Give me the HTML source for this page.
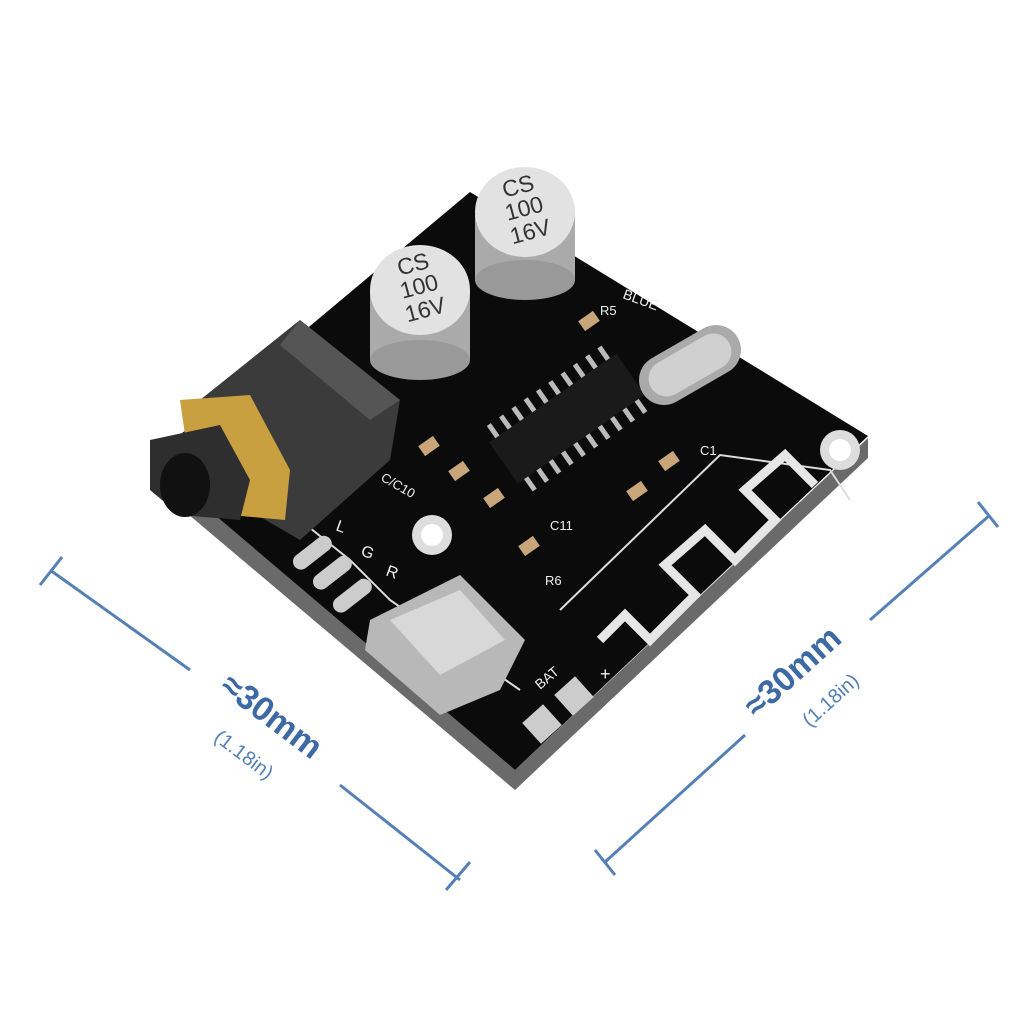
<!DOCTYPE html>
<html><head><meta charset="utf-8"><style>html,body{margin:0;padding:0;background:#fff}svg{display:block}</style></head>
<body>
<svg width="1024" height="1024" viewBox="0 0 1024 1024" xmlns="http://www.w3.org/2000/svg" font-family="Liberation Sans, sans-serif">
<rect width="1024" height="1024" fill="#fff"/>
<polygon points="150,460 515,770 868,438 868,458 515,790 150,482" fill="#6a6a6a"/>
<polygon points="150,460 470,192 868,436 515,770" fill="#0b0b0b"/>
<polyline points="560,610 720,455 830,470 850,500" fill="none" stroke="#ddd" stroke-width="2"/>
<polyline points="300,520 350,560 390,600 520,690" fill="none" stroke="#ddd" stroke-width="2"/>
<g fill="none" stroke="#e6e6e6" stroke-width="9">
<polyline points="600,640 625,615 650,640 695,595 665,565 705,530 735,560 775,520 745,490 785,455 815,485"/>
</g>
<circle cx="840" cy="450" r="20" fill="#ddd"/><circle cx="840" cy="450" r="11" fill="#fff"/>
<circle cx="432" cy="535" r="20" fill="#ddd"/><circle cx="432" cy="535" r="11" fill="#fff"/>
<g fill="#ccc">
<rect x="290" y="545" width="45" height="16" rx="8" transform="rotate(-38 312 553)"/>
<rect x="310" y="565" width="45" height="16" rx="8" transform="rotate(-38 332 573)"/>
<rect x="330" y="588" width="45" height="16" rx="8" transform="rotate(-38 352 596)"/>
<rect x="528" y="710" width="28" height="28" transform="rotate(-42 542 724)"/>
<rect x="560" y="682" width="28" height="28" transform="rotate(-42 574 696)"/>
</g>
<g transform="rotate(-35 565 420)">
<g stroke="#bbb" stroke-width="5">
<line x1="500" y1="380" x2="500" y2="460"/><line x1="515" y1="380" x2="515" y2="460"/><line x1="530" y1="380" x2="530" y2="460"/><line x1="545" y1="380" x2="545" y2="460"/><line x1="560" y1="380" x2="560" y2="460"/><line x1="575" y1="380" x2="575" y2="460"/><line x1="590" y1="380" x2="590" y2="460"/><line x1="605" y1="380" x2="605" y2="460"/><line x1="620" y1="380" x2="620" y2="460"/><line x1="635" y1="380" x2="635" y2="460"/>
</g>
<rect x="490" y="395" width="155" height="50" fill="#1a1a1a"/>
</g>
<g transform="rotate(-30 690 365)">
<rect x="635" y="340" width="110" height="50" rx="25" fill="#aaa"/>
<rect x="645" y="347" width="90" height="36" rx="18" fill="#d0d0d0"/>
</g>
<g fill="#c9a57a">
<rect x="420" y="440" width="18" height="12" transform="rotate(-35 429 446)"/>
<rect x="450" y="465" width="18" height="12" transform="rotate(-35 459 471)"/>
<rect x="485" y="492" width="18" height="12" transform="rotate(-35 494 498)"/>
<rect x="520" y="540" width="18" height="12" transform="rotate(-35 529 546)"/>
<rect x="660" y="455" width="18" height="12" transform="rotate(-35 669 461)"/>
<rect x="628" y="485" width="18" height="12" transform="rotate(-35 637 491)"/>
<rect x="580" y="315" width="18" height="12" transform="rotate(-35 589 321)"/>
</g>
<g>
<rect x="475" y="215" width="100" height="65" fill="#aaa"/>
<ellipse cx="525" cy="280" rx="50" ry="20" fill="#999"/>
<ellipse cx="525" cy="212" rx="50" ry="45" fill="#e2e2e2"/>
<g font-size="23" text-anchor="middle" fill="#333" transform="rotate(-15 525 212)">
<text x="525" y="193">CS</text><text x="525" y="216">100</text><text x="525" y="240">16V</text></g>
</g>
<g>
<rect x="370" y="290" width="100" height="70" fill="#aaa"/>
<ellipse cx="420" cy="360" rx="50" ry="20" fill="#999"/>
<ellipse cx="420" cy="290" rx="50" ry="45" fill="#e2e2e2"/>
<g font-size="23" text-anchor="middle" fill="#333" transform="rotate(-15 420 290)">
<text x="420" y="271">CS</text><text x="420" y="294">100</text><text x="420" y="318">16V</text></g>
</g>
<polygon points="200,400 300,320 400,400 390,460 300,540 180,470" fill="#3b3b3b"/>
<polygon points="300,320 400,400 370,420 280,345" fill="#555"/>
<polygon points="180,400 250,395 290,470 285,520 230,515 190,470" fill="#c8a040"/>
<polygon points="150,440 220,425 250,480 240,520 180,515 150,490" fill="#2e2e2e"/>
<ellipse cx="185" cy="485" rx="25" ry="32" fill="#111"/>
<polygon points="370,620 460,575 525,640 500,690 440,715 365,650" fill="#b8b8b8"/>
<polygon points="390,620 460,590 505,640 440,675" fill="#d8d8d8"/>
<g fill="#eee" font-size="16">
<text x="335" y="530" transform="rotate(20 335 530)">L</text>
<text x="360" y="555" transform="rotate(20 360 555)">G</text>
<text x="385" y="575" transform="rotate(20 385 575)">R</text>
<text x="622" y="298" font-size="14" transform="rotate(20 622 298)">BLUE</text>
<text x="540" y="690" font-size="14" transform="rotate(-40 540 690)">BAT</text>
<text x="600" y="680" font-size="18">+</text>
<text x="550" y="530" font-size="13">C11</text>
<text x="545" y="585" font-size="13">R6</text>
<text x="380" y="480" font-size="13" transform="rotate(30 380 480)">C/C10</text>
<text x="600" y="315" font-size="13">R5</text>
<text x="700" y="455" font-size="13">C1</text>
</g>
<g stroke="#5580b5" stroke-width="3" fill="none">
<line x1="50" y1="570" x2="190" y2="670"/>
<line x1="340" y1="785" x2="460" y2="880"/>
<line x1="40" y1="585" x2="62" y2="557"/>
<line x1="446" y1="890" x2="470" y2="862"/>
<line x1="605" y1="862" x2="745" y2="735"/>
<line x1="870" y1="620" x2="990" y2="515"/>
<line x1="595" y1="850" x2="615" y2="875"/>
<line x1="978" y1="502" x2="998" y2="527"/>
</g>
<g fill="#3d6aa5" font-weight="bold">
<text x="265" y="725" font-size="34" text-anchor="middle" transform="rotate(37 265 725)">≈30mm</text>
<text x="800" y="680" font-size="34" text-anchor="middle" transform="rotate(-42 800 680)">≈30mm</text>
</g>
<g fill="#5580b5">
<text x="240" y="760" font-size="20" text-anchor="middle" transform="rotate(37 240 760)">(1.18in)</text>
<text x="835" y="705" font-size="20" text-anchor="middle" transform="rotate(-42 835 705)">(1.18in)</text>
</g>
</svg>
</body></html>
